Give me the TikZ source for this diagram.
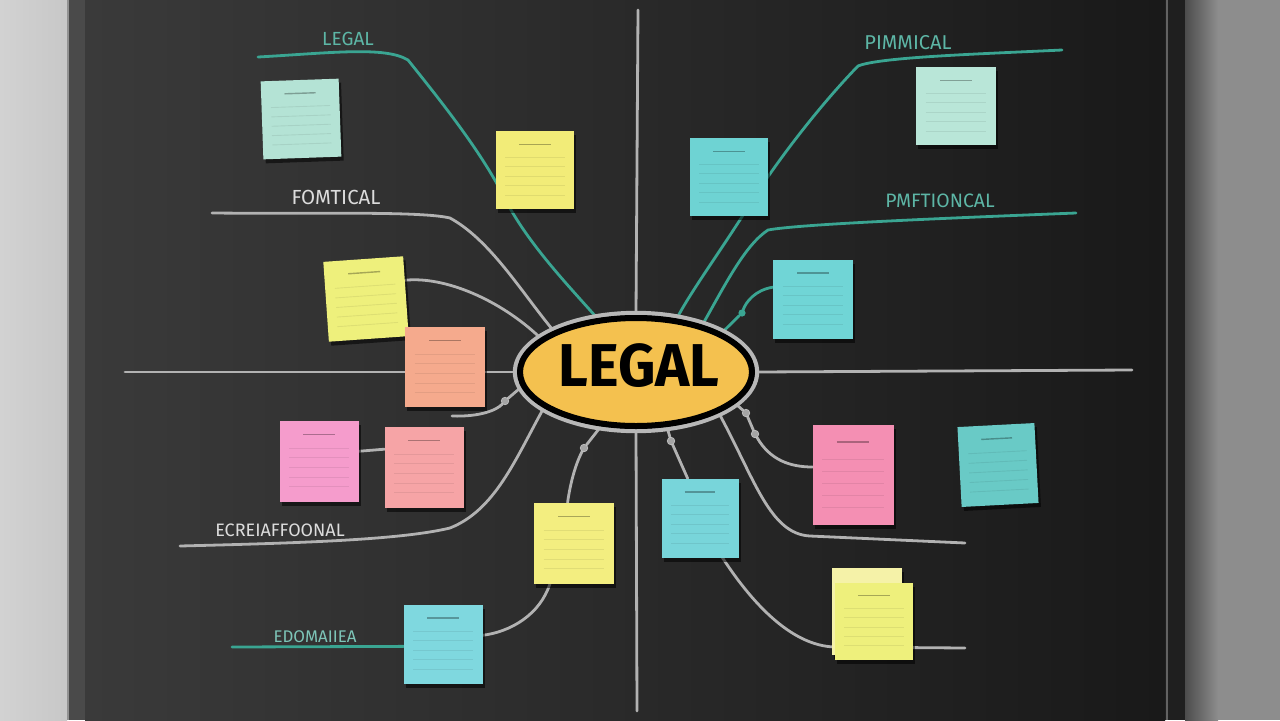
\documentclass[tikz,border=0pt]{standalone}
\usepackage{fontspec}
\setmainfont{Fira Sans}
\usetikzlibrary{calc,shapes.geometric,shadows}
\pgfdeclarelayer{boardlayer}
\pgfdeclarelayer{linelayer}
\pgfsetlayers{boardlayer,linelayer,main}

\definecolor{wallL}{HTML}{D2D2D2}
\definecolor{wallR}{HTML}{8D8D8D}
\definecolor{frameL}{HTML}{4A4A4A}
\definecolor{frameR}{HTML}{1F1F1F}
\definecolor{boardA}{HTML}{3A3A3A}
\definecolor{boardB}{HTML}{191919}
\definecolor{linkteal}{HTML}{3AA592}
\definecolor{linkgrey}{HTML}{B2B2B2}
\definecolor{labteal}{HTML}{5DB6A6}
\definecolor{labwhite}{HTML}{DCDCDC}
\definecolor{legalyellow}{HTML}{F4C14F}
\definecolor{ringgrey}{HTML}{B8B8B8}
\definecolor{beadgrey}{HTML}{A4A4A4}
\definecolor{mintA}{HTML}{B4E3D5}
\definecolor{mintB}{HTML}{B9E6D8}
\definecolor{yelA}{HTML}{F2EC78}
\definecolor{yelB}{HTML}{EEF07C}
\definecolor{yelC}{HTML}{F3EE80}
\definecolor{yelPale}{HTML}{F5F2A8}
\definecolor{salmon}{HTML}{F5AA8D}
\definecolor{pinkA}{HTML}{F59CCC}
\definecolor{pinkB}{HTML}{F6A4A6}
\definecolor{pinkC}{HTML}{F48FB3}
\definecolor{tealA}{HTML}{7FD8DF}
\definecolor{tealB}{HTML}{6ED3D3}
\definecolor{tealC}{HTML}{70D5D6}
\definecolor{tealD}{HTML}{78D5DA}
\definecolor{tealE}{HTML}{69CAC6}

\tikzset{
  note/.style={draw=none, minimum width=3.9cm, minimum height=3.9cm, inner sep=0pt, outer sep=0pt,
    drop shadow={fill=black, opacity=0.55, shadow xshift=0.12cm, shadow yshift=-0.2cm}},
  tealline/.style={draw=linkteal, line width=0.14cm, line cap=round},
  greyline/.style={draw=linkgrey, line width=0.14cm, line cap=round},
  bead/.style={circle, fill=beadgrey, draw=linkgrey!70!white, line width=0.03cm, minimum size=0.38cm, inner sep=0pt},
  tealbead/.style={circle, fill=linkteal, minimum size=0.36cm, inner sep=0pt},
  noteline/.style={draw=black, opacity=0.07, line width=0.045cm},
  notetitle/.style={draw=black, opacity=0.3, line width=0.07cm},
  boardtext/.style={anchor=base, inner sep=0pt},
}

\newcommand\notelines[1]{%
  \foreach \f in {0.34,0.46,0.58,0.70,0.82}{%
    \coordinate (nlL) at ($(#1.north west)!\f!(#1.south west)$);
    \coordinate (nlR) at ($(#1.north east)!\f!(#1.south east)$);
    \draw[noteline] ($(nlL)!0.12!(nlR)$) -- ($(nlL)!0.88!(nlR)$);
  }%
  \coordinate (nlL) at ($(#1.north west)!0.17!(#1.south west)$);
  \coordinate (nlR) at ($(#1.north east)!0.17!(#1.south east)$);
  \draw[notetitle] ($(nlL)!0.3!(nlR)$) -- ($(nlL)!0.7!(nlR)$);
}

\begin{document}
\begin{tikzpicture}[x=0.05cm, y=-0.05cm]
\useasboundingbox (0,0) rectangle (1280,720);

% ---------------- board and wall
\begin{pgfonlayer}{boardlayer}
  \fill[left color=wallL, right color=wallL!95!black] (0,0) rectangle (67,720);
  \fill[frameL] (67,0) rectangle (85,720);
  \fill[frameL!60!white] (67,0) rectangle (69,720);
  \fill[left color=boardA, right color=boardB] (85,0) rectangle (1165,720);
  \fill[frameR] (1165,0) rectangle (1185,720);
  \fill[frameR!70!white] (1166,0) rectangle (1168,720);
  \fill[left color=frameR!80!white, right color=wallR] (1185,0) rectangle (1218,720);
  \fill[wallR] (1218,0) rectangle (1280,720);
\end{pgfonlayer}

% ---------------- central node
\node[ellipse, draw=ringgrey, line width=0.22cm, minimum width=12.1cm, minimum height=5.9cm,
      inner sep=0pt, outer sep=0pt] (ring) at (636,372) {};
\node[ellipse, draw=black, fill=legalyellow, line width=0.3cm, minimum width=11.6cm, minimum height=5.4cm,
      inner sep=0pt] (legal) at (636,372) {};
\node[boardtext, xscale=0.96] (legaltext) at (639,386) {\fontsize{86pt}{86pt}\selectfont\bfseries LEGAL};

% ---------------- labels
\node[boardtext, text=labteal] (labA) at (348,45) {\fontsize{27pt}{27pt}\selectfont LEGAL};
\node[boardtext, text=labwhite] (labB) at (336,204) {\fontsize{29pt}{29pt}\selectfont FOMTICAL};
\node[boardtext, text=labteal] (labC) at (908,49) {\fontsize{28.5pt}{28.5pt}\selectfont PIMMICAL};
\node[boardtext, text=labteal] (labD) at (940,207) {\fontsize{27.6pt}{27.6pt}\selectfont PMFTIONCAL};
\node[boardtext, text=labwhite] (labE) at (280,536) {\fontsize{25.6pt}{25.6pt}\selectfont ECREIAFFOONAL};
\node[boardtext, text=labteal!80!white] (labF) at (315,642) {\fontsize{24pt}{24pt}\selectfont EDOMAIIEA};

% ---------------- sticky notes
\node[note, fill=mintA, rotate=2] (n0) at (301,119) {};
\node[note, fill=yelA] (n1) at (535,170) {};
\node[note, fill=yelB, minimum width=4cm, minimum height=4cm, rotate=4] (n2) at (366,299) {};
\node[note, fill=salmon, minimum width=4cm, minimum height=4cm] (n7) at (445,367) {};
\node[note, fill=pinkA, minimum width=3.95cm, minimum height=4.05cm] (n5) at (319,461) {};
\node[note, fill=pinkB, minimum width=3.95cm, minimum height=4.05cm] (n6) at (424,467) {};
\node[note, fill=yelC, minimum width=4cm, minimum height=4.05cm] (n3) at (574,543) {};
\node[note, fill=tealA, minimum width=3.95cm, minimum height=3.95cm] (n4) at (443,644) {};
\node[note, fill=tealB] (n8) at (729,177) {};
\node[note, fill=mintB, minimum width=4cm] (n13) at (956,106) {};
\node[note, fill=tealC, minimum width=4cm, minimum height=3.95cm] (n9) at (813,299) {};
\node[note, fill=tealD, minimum width=3.85cm, minimum height=3.95cm] (n10) at (700,518) {};
\node[note, fill=pinkC, minimum width=4.05cm, minimum height=5cm] (n11) at (853,475) {};
\node[note, fill=tealE, minimum width=3.85cm, minimum height=4cm, rotate=3] (n14) at (998,465) {};
\node[note, fill=yelPale, minimum width=3.5cm, minimum height=4.35cm] (n12b) at (867,611) {};
\node[note, fill=yelB, minimum width=3.9cm, minimum height=3.85cm] (n12) at (874,621) {};

\foreach \n in {n0,n1,n2,n7,n5,n6,n3,n4,n8,n13,n9,n10,n11,n14,n12}{\notelines{\n}}

% ---------------- beads
\node[bead] (bead1) at (505,401) {};
\node[bead] (bead2) at (584,448) {};
\node[tealbead] (bead3) at (742,313) {};
\node[bead] (bead4) at (671,441) {};
\node[bead] (bead5) at (746,413) {};
\node[bead] (bead6) at (755,434) {};

% ---------------- free ends
\coordinate (a1) at (258,57);
\coordinate (a2) at (212,213);
\coordinate (a4) at (452,416);
\coordinate (a5) at (180,546);
\coordinate (a8) at (232,647);
\coordinate (a10) at (125,372);
\coordinate (a11) at (1132,370);
\coordinate (a12) at (638,10);
\coordinate (a13) at (637,711);
\coordinate (a14) at (1062,50);
\coordinate (a15) at (1076,213);
\coordinate (a17) at (965,543);
\coordinate (a19) at (965,648);

% ---------------- connectors
\begin{pgfonlayer}{linelayer}
  % axes
  \draw[greyline] (a10) -- (ring.180);
  \draw[greyline] (ring.0) -- (a11);
  \draw[greyline] (a12) -- (ring.90);
  \draw[greyline] (ring.270) -- (a13);
  % upper left
  \draw[tealline] (a1) .. controls (330,53) and (385,46) .. (408,60)
        .. controls (440,100) and (480,150) .. (503,195)
        .. controls (525,240) and (565,282) .. (ring.126);
  \draw[greyline] (a2) .. controls (320,214) and (420,211) .. (450,218)
        .. controls (490,240) and (520,290) .. (ring.153);
  \draw[greyline] ($(n2.north east)!0.3!(n2.south east)$) .. controls (445,276) and (500,300) .. (ring.160);
  \draw[greyline] (a4) .. controls (480,417) and (497,410) .. (bead1) -- (ring.188);
  % lower left
  \draw[greyline] (a5) .. controls (300,543) and (400,540) .. (450,528)
        .. controls (495,510) and (515,460) .. (ring.202);
  \draw[greyline] ($(n5.north east)!0.38!(n5.south east)$) -- ($(n6.north west)!0.28!(n6.south west)$);
  \draw[greyline] (ring.237) -- (bead2) .. controls (575,465) and (570,485) .. ($(n3.north west)!0.42!(n3.north east)$);
  \draw[greyline] ($(n3.south west)!0.2!(n3.south east)$) .. controls (540,615) and (510,632) .. ($(n4.north east)!0.39!(n4.south east)$);
  \draw[tealline] (a8) -- ($(n4.north west)!0.53!(n4.south west)$);
  % upper right
  \draw[tealline] (a14) .. controls (980,54) and (880,57) .. (858,66)
        .. controls (825,100) and (785,150) .. (755,196)
        .. controls (725,245) and (695,285) .. (ring.53);
  \draw[tealline] (a15) .. controls (950,218) and (800,224) .. (768,230)
        .. controls (745,245) and (725,285) .. (ring.36);
  \draw[tealline] ($(n9.north west)!0.35!(n9.south west)$) .. controls (755,290) and (746,302) .. (bead3) -- (ring.25);
  % lower right
  \draw[greyline] (ring.299) -- (bead4) -- ($(n10.north west)!0.34!(n10.north east)$);
  \draw[greyline] (ring.333) .. controls (755,480) and (770,534) .. (810,536) -- (a17);
  \draw[greyline] (ring.342) -- (bead5) -- (bead6) .. controls (770,460) and (790,467) .. ($(n11.north west)!0.42!(n11.south west)$);
  \draw[greyline] ($(n10.south west)!0.79!(n10.south east)$) .. controls (750,600) and (790,646) .. (835,647) -- (a19);
\end{pgfonlayer}
\end{tikzpicture}
\end{document}
